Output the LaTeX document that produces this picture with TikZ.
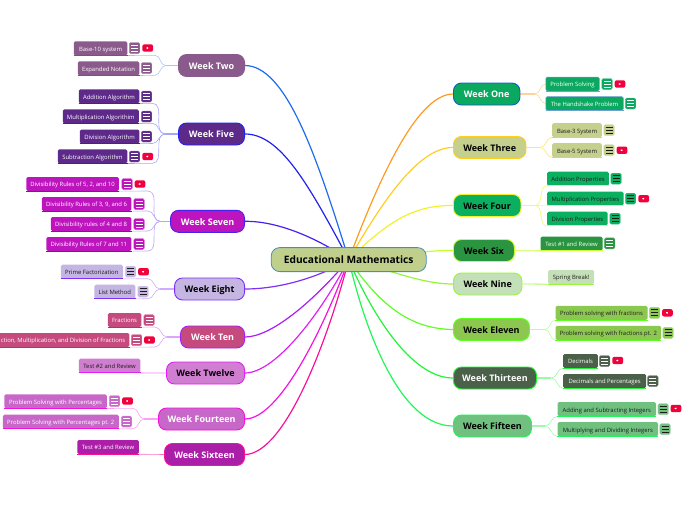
\documentclass[tikz,border=0pt]{standalone}
\usepackage{fontspec}
\setmainfont{Open Sans}
\usetikzlibrary{backgrounds}

\definecolor{cRoot}{HTML}{C0D08C}
\definecolor{cTwo}{HTML}{8B5A8C}
\definecolor{cFive}{HTML}{5E2A8A}
\definecolor{cSeven}{HTML}{BE14BE}
\definecolor{cEight}{HTML}{C4B5E2}
\definecolor{cTen}{HTML}{C54B7E}
\definecolor{cTwelve}{HTML}{D07FD0}
\definecolor{cFourteen}{HTML}{C768C8}
\definecolor{cSixteen}{HTML}{AA1EA8}
\definecolor{cOne}{HTML}{0BA860}
\definecolor{cThree}{HTML}{C4D08C}
\definecolor{cFour}{HTML}{0AB060}
\definecolor{cSix}{HTML}{2A9440}
\definecolor{cNine}{HTML}{C4E0B8}
\definecolor{cEleven}{HTML}{8CC850}
\definecolor{cThirteen}{HTML}{4A6048}
\definecolor{cFifteen}{HTML}{70C080}
\definecolor{lRoot}{HTML}{4090C0}
\definecolor{lOneBox}{HTML}{1060C0}
\definecolor{lTwo}{HTML}{1E6AF0}
\definecolor{lFive}{HTML}{2222F0}
\definecolor{lSeven}{HTML}{4A20F0}
\definecolor{lEight}{HTML}{8030F5}
\definecolor{lTen}{HTML}{A81EF5}
\definecolor{lTwelve}{HTML}{E01EF5}
\definecolor{lFourteen}{HTML}{F511E0}
\definecolor{lSixteen}{HTML}{F8109A}
\definecolor{lOne}{HTML}{FF9A20}
\definecolor{lThree}{HTML}{FFCE1E}
\definecolor{lFour}{HTML}{F2F22A}
\definecolor{lSix}{HTML}{C6FF2E}
\definecolor{lNine}{HTML}{98F53A}
\definecolor{lEleven}{HTML}{5EFF22}
\definecolor{lThirteen}{HTML}{22F536}
\definecolor{lFifteen}{HTML}{22F558}
\definecolor{tubeRed}{HTML}{F0003C}
\definecolor{inkDark}{HTML}{1C1C1C}

\tikzset{
  wk/.style n args={2}{draw=#2, fill=#1, rounded corners=8pt, line width=.9pt, minimum height=22pt, inner sep=0pt, text height=7.8pt, text depth=0pt, font=\fontsize{9}{9}\bfseries\selectfont},
  under/.style={line width=.9pt},
  leaf/.style n args={3}{fill=#1, text=#2, rounded corners=1.5pt, minimum height=14pt, inner ysep=0pt, inner xsep=0pt, text height=5.6pt, text depth=0pt, font=\fontsize{5.9}{6}\selectfont, append after command={(\tikzlastnode.south west) edge[under,#3] (\tikzlastnode.south east)}},
  menu/.style n args={2}{fill=#1, draw=#1!75!white, line width=.4pt, rounded corners=1.5pt, minimum width=10.5pt, minimum height=11pt, inner sep=0pt, path picture={
    \draw[#2, line width=.75pt] ([shift={(-3.5,-3)}]path picture bounding box.center) -- ++(7,0) ++(-7,3) -- ++(7,0) ++(-7,3) -- ++(7,0);}},
  tube/.style={fill=tubeRed, rounded corners=2pt, minimum width=10.7pt, minimum height=7.4pt, inner sep=0pt, path picture={
    \fill[white] ([shift={(-1.4,-1.5)}]path picture bounding box.center) -- ++(0,3) -- ++(3,-1.5) -- cycle;}},
  rootlink/.style={line width=1.2pt},
  stub/.style={line width=1.3pt},
  twig/.style={line width=.6pt}
}

\begin{document}
\begin{tikzpicture}[x=1pt,y=-1pt]
\useasboundingbox (0,0) rectangle (697,520);

\node[draw=lRoot, fill=cRoot, rounded corners=8.5pt, line width=.8pt, minimum width=155pt, minimum height=24pt, inner sep=0pt, text height=8.5pt, text depth=0pt, font=\fontsize{10.2}{10}\bfseries\selectfont] (root) at (348.7,259.6) {Educational Mathematics};

% left side
\node[wk={cTwo}{cTwo}, text=white, minimum width=66pt, anchor=east] (two) at (245,65.5) {Week Two};
\node[wk={cFive}{lFive}, text=white, minimum width=66pt, anchor=east] (five) at (245,134) {Week Five};
\node[wk={cSeven}{lSeven}, text=white, minimum width=74pt, anchor=east] (seven) at (245,221.3) {Week Seven};
\node[wk={cEight}{lEight}, text=black, minimum width=70pt, anchor=east] (eight) at (245,289) {Week Eight};
\node[wk={cTen}{lTen}, text=white, minimum width=64pt, anchor=east] (ten) at (245,337) {Week Ten};
\node[wk={cTwelve}{lTwelve}, text=black, minimum width=78pt, anchor=east] (twelve) at (245,373) {Week Twelve};
\node[wk={cFourteen}{lFourteen}, text=white, minimum width=86pt, anchor=east] (fourteen) at (245,419) {Week Fourteen};
\node[wk={cSixteen}{lSixteen}, text=white, minimum width=80pt, anchor=east] (sixteen) at (245,454.5) {Week Sixteen};

% right side
\node[wk={cOne}{lOneBox}, text=white, minimum width=66.5pt, anchor=west] (one) at (453,94) {Week One};
\node[wk={cThree}{lThree}, text=black, minimum width=72.5pt, anchor=west] (three) at (453,147.5) {Week Three};
\node[wk={cFour}{lFour}, text=black, minimum width=67.5pt, anchor=west] (four) at (453,205.5) {Week Four};
\node[wk={cSix}{lSix}, text=black, minimum width=61pt, anchor=west] (six) at (453,250.5) {Week Six};
\node[wk={cNine}{lNine}, text=black, minimum width=68.5pt, anchor=west] (nine) at (453,284) {Week Nine};
\node[wk={cEleven}{lEleven}, text=black, minimum width=76pt, anchor=west] (eleven) at (453,329.5) {Week Eleven};
\node[wk={cThirteen}{lThirteen}, text=white, minimum width=83pt, anchor=west] (thirteen) at (453,378) {Week Thirteen};
\node[wk={cFifteen}{lFifteen}, text=black, minimum width=78pt, anchor=west] (fifteen) at (453,426) {Week Fifteen};

% leaves, left side
\node[leaf={cTwo}{white}{lTwo}, minimum width=53.5pt, anchor=east] (twoA) at (127.5,48.3) {Base-10 system};
\node[menu={cTwo}{white}] (twoAm) at (134.5,48) {};
\node[tube] (twoAy) at (147.7,48) {};
\node[leaf={cTwo}{white}{lTwo}, minimum width=61.5pt, anchor=east] (twoB) at (139.5,68.3) {Expanded Notation};
\node[menu={cTwo}{white}] (twoBm) at (146.5,68) {};

\node[leaf={cFive}{white}{lFive}, minimum width=60.5pt, anchor=east] (fiveA) at (139.5,96.3) {Addition Algorithm};
\node[menu={cFive}{white}] (fiveAm) at (146.5,96.5) {};
\node[leaf={cFive}{white}{lFive}, minimum width=76pt, anchor=east] (fiveB) at (139,116.3) {Multiplication Algorithim};
\node[menu={cFive}{white}] (fiveBm) at (146.5,116.5) {};
\node[leaf={cFive}{white}{lFive}, minimum width=59.5pt, anchor=east] (fiveC) at (139.5,136.5) {Division Algorithm};
\node[menu={cFive}{white}] (fiveCm) at (146.5,136.5) {};
\node[leaf={cFive}{white}{lFive}, minimum width=69.5pt, anchor=east] (fiveD) at (127.5,156.3) {Subtraction Algorithm};
\node[menu={cFive}{white}] (fiveDm) at (134.5,156.5) {};
\node[tube] (fiveDy) at (147.7,156.5) {};

\node[leaf={cSeven}{white}{lSeven}, minimum width=92.5pt, anchor=east] (sevenA) at (119,184) {Divisibility Rules of 5, 2, and 10};
\node[menu={cSeven}{white}] (sevenAm) at (127,184) {};
\node[tube] (sevenAy) at (140,184) {};
\node[leaf={cSeven}{white}{lSeven}, minimum width=89.5pt, anchor=east] (sevenB) at (131.5,204) {Divisibility Rules of 3, 9, and 6};
\node[menu={cSeven}{white}] (sevenBm) at (139,204) {};
\node[leaf={cSeven}{white}{lSeven}, minimum width=80.5pt, anchor=east] (sevenC) at (131.5,224) {Divisibility rules of 4 and 8};
\node[menu={cSeven}{white}] (sevenCm) at (139,224) {};
\node[leaf={cSeven}{white}{lSeven}, minimum width=85pt, anchor=east] (sevenD) at (131.5,244) {Divisibility Rules of 7 and 11};
\node[menu={cSeven}{white}] (sevenDm) at (139,244) {};

\node[leaf={cEight}{inkDark}{lEight}, minimum width=62pt, anchor=east] (eightA) at (123,271.7) {Prime Factorization};
\node[menu={cEight}{inkDark}] (eightAm) at (130.5,271.7) {};
\node[tube] (eightAy) at (143.5,271.7) {};
\node[leaf={cEight}{inkDark}{lEight}, minimum width=41pt, anchor=east] (eightB) at (135.5,291.7) {List Method};
\node[menu={cEight}{inkDark}] (eightBm) at (143,291.7) {};

\node[leaf={cTen}{white}{lTen}, minimum width=33.5pt, anchor=east] (tenA) at (141.5,320) {Fractions};
\node[menu={cTen}{white}] (tenAm) at (149,320) {};
\node[leaf={cTen}{white}{lTen}, inner xsep=4pt, anchor=east] (tenB) at (129.5,340) {ction, Multiplication, and Division of Fractions};
\node[menu={cTen}{white}] (tenBm) at (136.5,340) {};
\node[tube] (tenBy) at (149.5,340) {};

\node[leaf={cTwelve}{inkDark}{lTwelve}, minimum width=61.5pt, anchor=east] (twelveA) at (140.5,365.7) {Test \#2 and Review};

\node[leaf={cFourteen}{white}{lFourteen}, minimum width=102.5pt, anchor=east] (fourteenA) at (107,401.3) {Problem Solving with Percentages};
\node[menu={cFourteen}{white}] (fourteenAm) at (114.5,401) {};
\node[tube] (fourteenAy) at (127.5,401) {};
\node[leaf={cFourteen}{white}{lFourteen}, minimum width=116pt, anchor=east] (fourteenB) at (119,421.7) {Problem Solving with Percentages pt. 2};
\node[menu={cFourteen}{white}] (fourteenBm) at (126.5,421.5) {};

\node[leaf={cSixteen}{white}{lSixteen}, minimum width=61.5pt, anchor=east] (sixteenA) at (139,447) {Test \#3 and Review};

% leaves, right side
\node[leaf={cOne}{white}{lOneBox!60}, draw=lOneBox!60, line width=.5pt, minimum width=53.5pt, anchor=west] (oneA) at (545.5,84) {Problem Solving};
\node[menu={cOne}{white}] (oneAm) at (607,84) {};
\node[tube] (oneAy) at (620,84) {};
\node[leaf={cOne}{white}{lOneBox!60}, draw=lOneBox!60, line width=.5pt, minimum width=77.5pt, anchor=west] (oneB) at (545.5,103.5) {The Handshake Problem};
\node[menu={cOne}{white}] (oneBm) at (630.5,103.5) {};

\node[leaf={cThree}{inkDark}{lThree}, minimum width=49.7pt, anchor=west] (threeA) at (552,130.2) {Base-3 System};
\node[menu={cThree}{inkDark}] (threeAm) at (609,130.2) {};
\node[leaf={cThree}{inkDark}{lThree}, minimum width=49.7pt, anchor=west] (threeB) at (552,150.2) {Base-5 System};
\node[menu={cThree}{inkDark}] (threeBm) at (609,150.2) {};
\node[tube] (threeBy) at (622,150.2) {};

\node[leaf={cFour}{inkDark}{lFour}, minimum width=61.7pt, anchor=west] (fourA) at (547,178.7) {Addition Properties};
\node[menu={cFour}{inkDark}] (fourAm) at (616,178.7) {};
\node[leaf={cFour}{inkDark}{lFour}, minimum width=76.3pt, anchor=west] (fourB) at (547,198.7) {Multiplication Properties};
\node[menu={cFour}{inkDark}] (fourBm) at (630.5,198.7) {};
\node[tube] (fourBy) at (643.7,198.7) {};
\node[leaf={cFour}{inkDark}{lFour}, minimum width=60.3pt, anchor=west] (fourC) at (547,218.7) {Division Properties};
\node[menu={cFour}{inkDark}] (fourCm) at (615,218.7) {};

\node[leaf={cSix}{white}{lSix}, minimum width=62pt, anchor=west] (sixA) at (540.3,243.7) {Test \#1 and Review};
\node[menu={cSix}{white}] (sixAm) at (609.7,243.3) {};

\node[leaf={cNine}{inkDark}{lNine}, minimum width=46pt, anchor=west] (nineA) at (548,277) {Spring Break!};

\node[leaf={cEleven}{inkDark}{lEleven}, minimum width=92pt, anchor=west] (elevenA) at (555.3,312.8) {Problem solving with fractions};
\node[menu={cEleven}{inkDark}] (elevenAm) at (654.5,312.8) {};
\node[tube] (elevenAy) at (667.4,312.8) {};
\node[leaf={cEleven}{inkDark}{lEleven}, minimum width=105.7pt, anchor=west] (elevenB) at (555.3,332.8) {Problem solving with fractions pt. 2};
\node[menu={cEleven}{inkDark}] (elevenBm) at (668,332.8) {};

\node[leaf={cThirteen}{white}{lThirteen}, minimum width=34.7pt, anchor=west] (thirteenA) at (563,361) {Decimals};
\node[menu={cThirteen}{white}] (thirteenAm) at (604.7,361) {};
\node[tube] (thirteenAy) at (617.7,360.5) {};
\node[leaf={cThirteen}{white}{lThirteen}, minimum width=83pt, anchor=west] (thirteenB) at (563,381) {Decimals and Percentages};
\node[menu={cThirteen}{white}] (thirteenBm) at (652.8,381) {};

\node[leaf={cFifteen}{inkDark}{lFifteen}, minimum width=98.7pt, anchor=west] (fifteenA) at (557.3,409.2) {Adding and Subtracting Integers};
\node[menu={cFifteen}{inkDark}] (fifteenAm) at (663.2,409.2) {};
\node[tube] (fifteenAy) at (676,408.5) {};
\node[leaf={cFifteen}{inkDark}{lFifteen}, minimum width=100.7pt, anchor=west] (fifteenB) at (557.3,429.2) {Multiplying and Dividing Integers};
\node[menu={cFifteen}{inkDark}] (fifteenBm) at (665,429.2) {};

\begin{pgfonlayer}{background}
% root to weeks
\draw[rootlink,lTwo] (two.east) .. controls (285,66) and (315,150) .. (root.center);
\draw[rootlink,lFive] (five.east) .. controls (280,134) and (308,183) .. (root.center);
\draw[rootlink,lSeven] (seven.east) .. controls (280,221) and (320,240) .. (root.center);
\draw[rootlink,lEight] (eight.east) .. controls (280,289) and (320,277) .. (root.center);
\draw[rootlink,lTen] (ten.east) .. controls (270,337) and (310,305) .. (root.center);
\draw[rootlink,lTwelve] (twelve.east) .. controls (275,373) and (320,315) .. (root.center);
\draw[rootlink,lFourteen] (fourteen.east) .. controls (280,419) and (325,325) .. (root.center);
\draw[rootlink,lSixteen] (sixteen.east) .. controls (285,454) and (328,340) .. (root.center);
\draw[rootlink,lOne] (one.west) .. controls (415,94) and (375,190) .. (root.center);
\draw[rootlink,lThree] (three.west) .. controls (415,147) and (375,215) .. (root.center);
\draw[rootlink,lFour] (four.west) .. controls (410,205) and (385,225) .. (root.center);
\draw[rootlink,lSix] (six.west) .. controls (430,250) and (400,255) .. (root.center);
\draw[rootlink,lNine] (nine.west) .. controls (420,284) and (385,268) .. (root.center);
\draw[rootlink,lEleven] (eleven.west) .. controls (410,329) and (380,305) .. (root.center);
\draw[rootlink,lThirteen] (thirteen.west) .. controls (410,378) and (370,310) .. (root.center);
\draw[rootlink,lFifteen] (fifteen.west) .. controls (400,426) and (365,330) .. (root.center);

% weeks to leaves, left
\draw[stub,lTwo!40] (two.west) -- ++(-12.5,0) coordinate (jTwo);
\draw[twig,lTwo!40] (jTwo) to[out=180,in=0] (155,55.3) -- (twoA.south east);
\draw[twig,lTwo!40] (jTwo) to[out=180,in=0] (155,75.3) -- (twoB.south east);
\draw[stub,lFive!40] (five.west) -- ++(-13,0) coordinate (jFive);
\draw[twig,lFive!40] (jFive) to[out=180,in=0] (152.5,103.3) -- (fiveA.south east);
\draw[twig,lFive!40] (jFive) to[out=180,in=0] (152.5,123.3) -- (fiveB.south east);
\draw[twig,lFive!40] (jFive) to[out=180,in=0] (152.5,143.5) -- (fiveC.south east);
\draw[twig,lFive!40] (jFive) to[out=180,in=0] (152.5,163.3) -- (fiveD.south east);
\draw[stub,lSeven!40] (seven.west) -- ++(-10,0) coordinate (jSeven);
\draw[twig,lSeven!40] (jSeven) to[out=180,in=0] (148,191) -- (sevenA.south east);
\draw[twig,lSeven!40] (jSeven) to[out=180,in=0] (148,211) -- (sevenB.south east);
\draw[twig,lSeven!40] (jSeven) to[out=180,in=0] (148,231) -- (sevenC.south east);
\draw[twig,lSeven!40] (jSeven) to[out=180,in=0] (148,251) -- (sevenD.south east);
\draw[stub,lEight!40] (eight.west) -- ++(-14,0) coordinate (jEight);
\draw[twig,lEight!40] (jEight) to[out=180,in=0] (148,278.7) -- (eightA.south east);
\draw[twig,lEight!40] (jEight) to[out=180,in=0] (148,298.7) -- (eightB.south east);
\draw[stub,lTen!40] (ten.west) -- ++(-13,0) coordinate (jTen);
\draw[twig,lTen!40] (jTen) to[out=180,in=0] (155,327) -- (tenA.south east);
\draw[twig,lTen!40] (jTen) to[out=180,in=0] (155,347) -- (tenB.south east);
\draw[stub,lTwelve!30] (twelve.west) -- (twelveA.south east);
\draw[stub,lFourteen!40] (fourteen.west) -- ++(-14,0) coordinate (jFourteen);
\draw[twig,lFourteen!40] (jFourteen) to[out=180,in=0] (133,408.3) -- (fourteenA.south east);
\draw[twig,lFourteen!40] (jFourteen) to[out=180,in=0] (133,428.7) -- (fourteenB.south east);
\draw[twig,lSixteen!60] (sixteen.west) -- (sixteenA.south east);

% weeks to leaves, right
\draw[stub,lOne!45] (one.east) -- ++(14.5,0) coordinate (jOne);
\draw[twig,lOne!45] (jOne) to[out=0,in=180] (oneA.west);
\draw[twig,lOne!45] (jOne) to[out=0,in=180] (oneB.west);
\draw[stub,lThree!60] (three.east) -- ++(14,0) coordinate (jThree);
\draw[twig,lThree!60] (jThree) to[out=0,in=180] (threeA.south west);
\draw[twig,lThree!60] (jThree) to[out=0,in=180] (threeB.south west);
\draw[stub,lFour!70] (four.east) -- ++(13.5,0) coordinate (jFour);
\draw[twig,lFour!70] (jFour) to[out=0,in=180] (fourA.south west);
\draw[twig,lFour!70] (jFour) to[out=0,in=180] (fourB.south west);
\draw[twig,lFour!70] (jFour) to[out=0,in=180] (fourC.south west);
\draw[stub,lSix!60] (six.east) -- (sixA.south west);
\draw[stub,lNine!50] (nine.east) -- (nineA.south west);
\draw[stub,lEleven!45] (eleven.east) -- ++(15,0) coordinate (jEleven);
\draw[twig,lEleven!45] (jEleven) to[out=0,in=180] (elevenA.south west);
\draw[twig,lEleven!45] (jEleven) to[out=0,in=180] (elevenB.south west);
\draw[stub,lThirteen!45] (thirteen.east) -- ++(14.5,0) coordinate (jThirteen);
\draw[twig,lThirteen!45] (jThirteen) to[out=0,in=180] (thirteenA.south west);
\draw[twig,lThirteen!45] (jThirteen) to[out=0,in=180] (thirteenB.south west);
\draw[stub,lFifteen!45] (fifteen.east) -- ++(13,0) coordinate (jFifteen);
\draw[twig,lFifteen!45] (jFifteen) to[out=0,in=180] (fifteenA.south west);
\draw[twig,lFifteen!45] (jFifteen) to[out=0,in=180] (fifteenB.south west);
\end{pgfonlayer}
\end{tikzpicture}
\end{document}
